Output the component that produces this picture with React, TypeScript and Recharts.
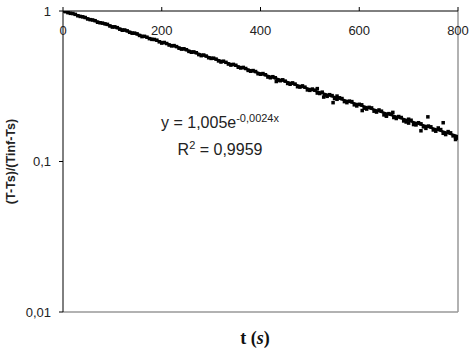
import { ScatterChart, Scatter, XAxis, YAxis, ReferenceLine } from "recharts";

// measured time (s) and dimensionless temperature (T-Ts)/(Tinf-Ts)
const times = [
  0, 10, 20, 30, 40, 50, 60, 70, 80, 90, 100, 110, 120, 130, 140, 150, 160, 170, 180, 190,
  200, 210, 220, 230, 240, 250, 260, 270, 280, 290, 300, 310, 320, 330, 340, 350, 360, 370,
  380, 390, 400, 410, 420, 430, 440, 450, 460, 470, 480, 490, 500, 510, 520, 530, 540, 550,
  560, 570, 580, 590, 600, 610, 620, 630, 640, 650, 660, 670, 680, 690, 700, 710, 720, 730,
  740, 750, 760, 770, 780, 790, 800,
  5, 15, 25, 35, 45, 55, 65, 75, 85, 95, 105, 115, 125, 135, 145, 155, 165, 175, 185, 195,
  205, 215, 225, 235, 245, 255, 265, 275, 285, 295, 305, 315, 325, 335, 345, 355, 365, 375,
  385, 395, 405, 415, 425, 435, 445, 455, 465, 475, 485, 495, 505, 515, 525, 535, 545, 555,
  565, 575, 585, 595, 605, 615, 625, 635, 645, 655, 665, 675, 685, 695, 705, 715, 725, 735,
  745, 755, 765, 775, 785, 795,
  432, 515, 528, 547, 555, 606, 655, 668, 700, 725, 739, 770, 795,
];
const ratios = [
  1.0, 0.975, 0.962, 0.93, 0.915, 0.885, 0.872, 0.842, 0.831, 0.815, 0.782, 0.775, 0.745,
  0.738, 0.712, 0.705, 0.676, 0.67, 0.648, 0.64, 0.612, 0.608, 0.586, 0.58, 0.558, 0.553,
  0.532, 0.528, 0.505, 0.502, 0.484, 0.479, 0.458, 0.456, 0.437, 0.436, 0.418, 0.415, 0.398,
  0.396, 0.38, 0.377, 0.36, 0.36, 0.344, 0.342, 0.326, 0.327, 0.312, 0.312, 0.297, 0.298,
  0.283, 0.276, 0.278, 0.262, 0.265, 0.25, 0.252, 0.238, 0.24, 0.226, 0.229, 0.216, 0.22,
  0.204, 0.208, 0.196, 0.199, 0.186, 0.191, 0.176, 0.181, 0.17, 0.172, 0.162, 0.167, 0.154,
  0.158, 0.148, 0.143,
  0.99, 0.965, 0.95, 0.92, 0.905, 0.876, 0.862, 0.835, 0.822, 0.795, 0.785, 0.757, 0.748,
  0.722, 0.713, 0.688, 0.679, 0.655, 0.647, 0.624, 0.618, 0.594, 0.589, 0.566, 0.561, 0.539,
  0.535, 0.513, 0.51, 0.489, 0.486, 0.466, 0.464, 0.444, 0.442, 0.423, 0.422, 0.403, 0.402,
  0.383, 0.384, 0.364, 0.366, 0.347, 0.349, 0.33, 0.333, 0.314, 0.318, 0.299, 0.303, 0.285,
  0.289, 0.271, 0.274, 0.259, 0.262, 0.246, 0.25, 0.234, 0.238, 0.223, 0.227, 0.213, 0.216,
  0.202, 0.206, 0.193, 0.196, 0.183, 0.188, 0.175, 0.178, 0.166, 0.17, 0.159, 0.163, 0.151,
  0.155, 0.145,
  0.34, 0.305, 0.268, 0.246, 0.272, 0.218, 0.2, 0.212, 0.18, 0.16, 0.198, 0.181, 0.14,
];

// exponential fit y = 1,005e^(-0,0024x) at the ends of the range
const fitTimes = [0, 800];
const fitRatios = [1.005, 0.147];

const xTicks = [0, 200, 400, 600, 800];
const yTicks = [0.01, 0.1, 1];

const points = times.map((t, i) => ({ t, r: ratios[i] }));
const fit = fitTimes.map((t, i) => ({ t, r: fitRatios[i] }));

const font = "'Liberation Sans', Arial, sans-serif";

const TopTick = (props: any) => {
  const { x, payload } = props;
  return (
    <text x={x} y={35} textAnchor="middle" fontSize={13} fill="#222" fontFamily={font}>
      {payload.value}
    </text>
  );
};

const Dot = (props: any) => (
  <rect x={props.cx - 1.75} y={props.cy - 1.75} width={3.5} height={3.5} fill="#000" />
);

export default function App() {
  return (
    <div style={{ position: "absolute", left: 0, top: 0, width: 474, height: 351, background: "#fff" }}>
      <ScatterChart width={474} height={351} margin={{ top: 0, right: 16, bottom: 39, left: 0 }}>
        <XAxis
          dataKey="t"
          type="number"
          orientation="top"
          domain={[0, 800]}
          ticks={xTicks}
          height={11}
          tickSize={4}
          stroke="#000"
          tick={<TopTick />}
          allowDataOverflow
        />
        <YAxis
          dataKey="r"
          type="number"
          scale="log"
          domain={[0.01, 1]}
          ticks={yTicks}
          width={63}
          tickSize={4}
          tickMargin={8}
          stroke="#000"
          allowDataOverflow
          tick={{ fontSize: 13, fill: "#222", fontFamily: font }}
          tickFormatter={(v: number) => String(v).replace(".", ",")}
          label={{
            value: "(T-Ts)/(Tinf-Ts)",
            angle: -90,
            position: "insideLeft",
            offset: 11,
            style: { fontSize: 12.5, fontWeight: "bold", fill: "#222", fontFamily: font, textAnchor: "middle" },
          }}
        />
        <ReferenceLine x={800} stroke="#999" strokeWidth={1.5} />
        <ReferenceLine y={0.01} stroke="#999" strokeWidth={1.5} />
        <Scatter data={points} shape={<Dot />} isAnimationActive={false} />
        <Scatter
          data={fit}
          line={{ stroke: "#000", strokeWidth: 2.5 }}
          shape={() => null}
          isAnimationActive={false}
        />
      </ScatterChart>
      <div
        style={{
          position: "absolute",
          left: 120,
          top: 107,
          width: 200,
          textAlign: "center",
          fontFamily: font,
          fontSize: 16,
          lineHeight: "22px",
          color: "#222",
        }}
      >
        <div>
          y = 1,005e<sup style={{ fontSize: 11, verticalAlign: "6px" }}>-0,0024x</sup>
        </div>
        <div>
          R<sup style={{ fontSize: 11, verticalAlign: "6px" }}>2</sup> = 0,9959
        </div>
      </div>
      <div
        style={{
          position: "absolute",
          left: 205,
          top: 328,
          width: 100,
          textAlign: "center",
          fontFamily: "'Liberation Serif', 'Times New Roman', serif",
          fontWeight: "bold",
          fontSize: 18,
          color: "#111",
        }}
      >
        t (<i>s</i>)
      </div>
    </div>
  );
}
